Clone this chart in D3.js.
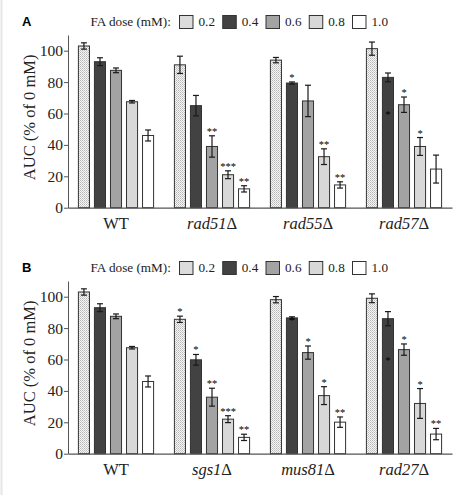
<!DOCTYPE html>
<html>
<head>
<meta charset="utf-8">
<script src="https://cdn.jsdelivr.net/npm/d3@7"></script>
<style>
  body { margin: 0; background: #fff; }
  svg { display: block; }
</style>
</head>
<body>
<svg id="chart" width="474" height="495"></svg>
<script>
const doses = ["0.2", "0.4", "0.6", "0.8", "1.0"];
const yTicks = [0, 20, 40, 60, 80, 100];

// panel A
const strainsA = ["WT", "rad51", "rad55", "rad57"];
const meansA = [
  [103, 93, 87.5, 67.5, 46],
  [91, 65, 39, 21, 12],
  [94, 79.4, 68, 32.5, 14.5],
  [101.3, 83, 65.6, 39, 24.6]
];
const errA = [
  [2, 2.5, 1.5, 0.8, 3.5],
  [5.5, 6.5, 6.8, 2.5, 2],
  [1.7, 0.7, 10, 5, 2],
  [4.2, 2.8, 4.9, 5.7, 8.9]
];
const starsA = [
  ["", "", "", "", ""],
  ["", "", "**", "***", "**"],
  ["", "*", "", "**", "**"],
  ["", "", "*", "*", ""]
];
// stars that ended up on top of the dark bars: [strain, dose, value]
const hiddenStarsA = [[3, 1, 61]];

// panel B
const strainsB = ["WT", "sgs1", "mus81", "rad27"];
const meansB = [
  [103, 93, 87.5, 67.5, 46],
  [85.6, 59.8, 36, 22, 10.4],
  [98.1, 86.5, 64.4, 37, 20.1],
  [99, 86, 66.3, 32, 12.5]
];
const errB = [
  [2, 2.5, 1.5, 0.8, 3.5],
  [2, 3.4, 5.7, 2.2, 2],
  [2, 0.7, 4.2, 5.7, 3.3],
  [2.8, 4.5, 3.6, 9.5, 3.6]
];
const starsB = [
  ["", "", "", "", ""],
  ["*", "*", "**", "***", "**"],
  ["", "", "*", "*", "**"],
  ["", "", "*", "*", "**"]
];
const hiddenStarsB = [[2, 1, 86.5], [3, 1, 60.8]];

const serif = "'Liberation Serif', 'Times New Roman', serif";
const fills = ["url(#dots)", "#424242", "#a3a3a3", "#d8d8d8", "#ffffff"];

const svg = d3.select("#chart");

// speckled pattern for the 0.2 dose
const pat = svg.append("defs").append("pattern")
  .attr("id", "dots")
  .attr("patternUnits", "userSpaceOnUse")
  .attr("width", 2).attr("height", 2);
pat.append("rect").attr("width", 2).attr("height", 2).attr("fill", "#f4f4f4");
pat.append("rect").attr("width", 1).attr("height", 1).attr("fill", "#b8b8b8");
pat.append("rect").attr("x", 1).attr("y", 1).attr("width", 1).attr("height", 1).attr("fill", "#cfcfcf");

// faint frame line on the left edge
svg.append("line")
  .attr("x1", 1.5).attr("x2", 1.5).attr("y1", 0).attr("y2", 495)
  .attr("stroke", "#e6e6e6").attr("stroke-width", 2);

function drawPanel(offsetY, label, strains, means, errs, stars, hidden) {
  const g = svg.append("g").attr("transform", `translate(0,${offsetY})`);

  const x = d3.scaleBand().domain(strains).range([68, 452]);
  const xd = d3.scaleBand().domain(doses).range([8, 88]).paddingInner(0.31).paddingOuter(0.15);
  const y = d3.scaleLinear().domain([0, 110]).range([207.7, 35]);

  // panel letter
  g.append("text")
    .attr("x", 22).attr("y", 26)
    .attr("font-family", "'Liberation Sans', Arial, sans-serif")
    .attr("font-weight", "bold").attr("font-size", 13)
    .text(label);

  // legend
  g.append("text")
    .attr("x", 90.5).attr("y", 26)
    .attr("font-family", serif).attr("font-size", 13.2)
    .attr("fill", "#222")
    .text("FA dose (mM):");
  const legX = d3.scalePoint().domain(doses).range([179.5, 352.5]);
  const leg = g.selectAll(".leg").data(doses).join("g")
    .attr("transform", d => `translate(${legX(d)},15.5)`);
  leg.append("rect")
    .attr("width", 13.5).attr("height", 13)
    .attr("fill", (d, i) => fills[i])
    .attr("stroke", "#333").attr("stroke-width", 1);
  leg.append("text")
    .attr("x", 19).attr("y", 10.5)
    .attr("font-family", serif).attr("font-size", 13.2)
    .attr("fill", "#222")
    .text(d => d);

  // y axis
  const yAxis = g.append("g")
    .attr("transform", "translate(68,0)")
    .call(d3.axisLeft(y).tickValues(yTicks).tickSize(4).tickSizeOuter(0).tickPadding(1));
  yAxis.select(".domain").attr("stroke", "#555");
  yAxis.selectAll(".tick line").attr("stroke", "#555");
  yAxis.selectAll(".tick text")
    .attr("font-family", serif).attr("font-size", 15.5).attr("fill", "#222");

  g.append("text")
    .attr("transform", `translate(35,${(y(0) + y(110)) / 2 - 4}) rotate(-90)`)
    .attr("text-anchor", "middle")
    .attr("font-family", serif).attr("font-size", 16.5).attr("fill", "#222")
    .text("AUC (% of 0 mM)");

  // bars
  const rows = [];
  strains.forEach((s, i) => doses.forEach((d, j) => rows.push({
    s, d, j, v: means[i][j], e: errs[i][j], star: stars[i][j]
  })));

  const bx = r => x(r.s) + xd(r.d);
  const bw = xd.bandwidth();

  g.selectAll(".bar").data(rows).join("rect")
    .attr("class", "bar")
    .attr("x", bx)
    .attr("y", r => y(r.v))
    .attr("width", bw)
    .attr("height", r => y(0) - y(r.v))
    .attr("fill", r => fills[r.j])
    .attr("stroke", "#333").attr("stroke-width", 1);

  // error bars
  const eb = g.selectAll(".err").data(rows).join("g").attr("class", "err")
    .attr("stroke", "#1a1a1a").attr("stroke-width", 1.2);
  eb.append("line")
    .attr("x1", r => bx(r) + bw / 2).attr("x2", r => bx(r) + bw / 2)
    .attr("y1", r => y(r.v + r.e)).attr("y2", r => y(r.v - r.e));
  eb.append("line")
    .attr("x1", r => bx(r) + bw / 2 - 3).attr("x2", r => bx(r) + bw / 2 + 3)
    .attr("y1", r => y(r.v + r.e)).attr("y2", r => y(r.v + r.e));
  eb.append("line")
    .attr("x1", r => bx(r) + bw / 2 - 3).attr("x2", r => bx(r) + bw / 2 + 3)
    .attr("y1", r => y(r.v - r.e)).attr("y2", r => y(r.v - r.e));

  // significance stars
  g.selectAll(".star").data(rows.filter(r => r.star)).join("text")
    .attr("class", "star")
    .attr("x", r => bx(r) + bw / 2)
    .attr("y", r => y(r.v + r.e) - 1)
    .attr("text-anchor", "middle")
    .attr("font-family", serif).attr("font-size", 10.5)
    .attr("fill", "#000")
    .text(r => r.star);

  g.selectAll(".hstar").data(hidden).join("text")
    .attr("class", "hstar")
    .attr("x", h => x(strains[h[0]]) + xd(doses[h[1]]) + bw / 2)
    .attr("y", h => y(h[2]) + 6)
    .attr("text-anchor", "middle")
    .attr("font-family", serif).attr("font-size", 10.5)
    .attr("fill", "#000")
    .text("*");

  // x axis
  const xAxis = g.append("g")
    .attr("transform", `translate(0,${y(0)})`)
    .call(d3.axisBottom(x).tickSize(0).tickSizeOuter(0).tickPadding(10));
  xAxis.select(".domain").attr("stroke", "#555").attr("stroke-width", 1.2);
  xAxis.selectAll(".tick text").each(function (d) {
    const t = d3.select(this).text(null)
      .attr("font-family", serif).attr("font-size", 16.5).attr("fill", "#222");
    if (d === "WT") {
      t.append("tspan").text(d);
    } else {
      t.append("tspan").attr("font-style", "italic").text(d);
      t.append("tspan").text("\u0394");
    }
  });
}

drawPanel(0, "A", strainsA, meansA, errA, starsA, hiddenStarsA);
drawPanel(246, "B", strainsB, meansB, errB, starsB, hiddenStarsB);
</script>
</body>
</html>
